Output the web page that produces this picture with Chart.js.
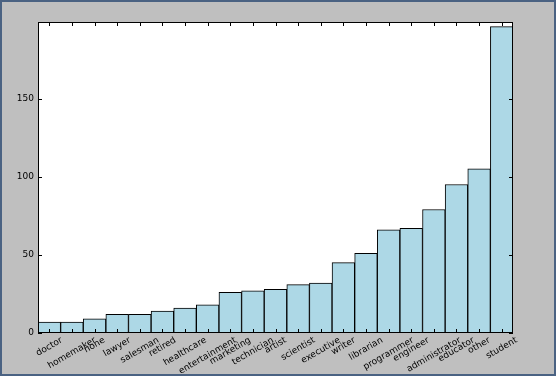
<!DOCTYPE html>
<html>
<head>
<meta charset="utf-8">
<script src="https://cdn.jsdelivr.net/npm/chart.js@4/dist/chart.umd.min.js"></script>
<style>
    html, body { margin: 0; padding: 0; background: #bfbfbf; }
    #wrap { width: 556px; height: 376px; }
</style>
</head>
<body>
<div id="wrap"><canvas id="occChart" width="556" height="376"></canvas></div>
<script>
const occupations = [
    "doctor", "homemaker", "none", "lawyer", "salesman", "retired", "healthcare",
    "entertainment", "marketing", "technician", "artist", "scientist", "executive",
    "writer", "librarian", "programmer", "engineer", "administrator", "educator",
    "other", "student"
];
const userCounts = [7, 7, 9, 12, 12, 14, 16, 18, 26, 27, 28, 31, 32, 45, 51, 66, 67, 79, 95, 105, 196];
const yTicks = [0, 50, 100, 150];
const yMax = 199;

const FONT = "9px 'DejaVu Sans'";

// matplotlib-ish frame: grey figure, boxed axes, inward ticks, centred rotated labels
const framePlugin = {
    id: "frame",
    beforeDraw(chart) {
        const { ctx, chartArea: a, width, height } = chart;
        ctx.save();
        ctx.fillStyle = "#bfbfbf";
        ctx.fillRect(0, 0, width, height);
        ctx.fillStyle = "#ffffff";
        ctx.fillRect(a.left, a.top, a.right - a.left, a.bottom - a.top);
        ctx.restore();
    },
    afterDraw(chart) {
        const { ctx, chartArea: a, width, height } = chart;
        const xs = chart.scales.x;
        const ys = chart.scales.y;
        ctx.save();

        ctx.strokeStyle = "#000000";
        ctx.lineWidth = 1;
        ctx.strokeRect(Math.round(a.left) + 0.5, Math.round(a.top) + 0.5,
            Math.round(a.right - a.left) - 1, Math.round(a.bottom - a.top) - 1);

        ctx.beginPath();
        occupations.forEach((_, i) => {
            const x = Math.round(xs.getPixelForValue(i)) + 0.5;
            ctx.moveTo(x, a.bottom);
            ctx.lineTo(x, a.bottom - 4);
            ctx.moveTo(x, a.top);
            ctx.lineTo(x, a.top + 4);
        });
        yTicks.forEach((v) => {
            const y = Math.round(ys.getPixelForValue(v)) + 0.5;
            ctx.moveTo(a.left, y);
            ctx.lineTo(a.left + 4, y);
            ctx.moveTo(a.right, y);
            ctx.lineTo(a.right - 4, y);
        });
        ctx.stroke();

        ctx.font = FONT;
        ctx.fillStyle = "#000000";
        ctx.textAlign = "center";
        ctx.textBaseline = "middle";
        const ang = Math.PI / 6;
        const h = 9 * 1.17;
        occupations.forEach((label, i) => {
            const w = ctx.measureText(label).width;
            const boxH = w * Math.sin(ang) + h * Math.cos(ang);
            const x = xs.getPixelForValue(i);
            const y = a.bottom + 2 + boxH / 2;
            ctx.save();
            ctx.translate(x, y);
            ctx.rotate(-ang);
            ctx.fillText(label, 0, 0);
            ctx.restore();
        });

        ctx.strokeStyle = "#4a6282";
        ctx.lineWidth = 2;
        ctx.strokeRect(1, 1, width - 2, height - 2);
        ctx.restore();
    },
};

new Chart(document.getElementById("occChart"), {
    type: "bar",
    data: {
        labels: occupations,
        datasets: [
            {
                data: userCounts,
                backgroundColor: "#add8e6",
                borderColor: "#000000",
                borderWidth: 1,
                borderSkipped: false,
                categoryPercentage: 1.0,
                barPercentage: 1.0,
            },
        ],
    },
    options: {
        responsive: false,
        animation: false,
        devicePixelRatio: 1,
        layout: {
            padding: { top: 22, right: 43, left: 0, bottom: 0 },
        },
        plugins: {
            legend: { display: false },
            tooltip: { enabled: false },
        },
        scales: {
            x: {
                grid: { display: false },
                border: { display: false },
                ticks: { display: false },
                afterFit(scale) {
                    scale.height = 43;
                },
            },
            y: {
                min: 0,
                max: yMax,
                grid: { display: false, drawTicks: false },
                border: { display: false },
                afterBuildTicks(scale) {
                    scale.ticks = yTicks.map((v) => ({ value: v }));
                },
                ticks: {
                    color: "#000000",
                    padding: 4,
                    font: { family: "'DejaVu Sans'", size: 9 },
                },
                afterFit(scale) {
                    scale.width = 38;
                },
            },
        },
    },
    plugins: [framePlugin],
});
</script>
</body>
</html>
